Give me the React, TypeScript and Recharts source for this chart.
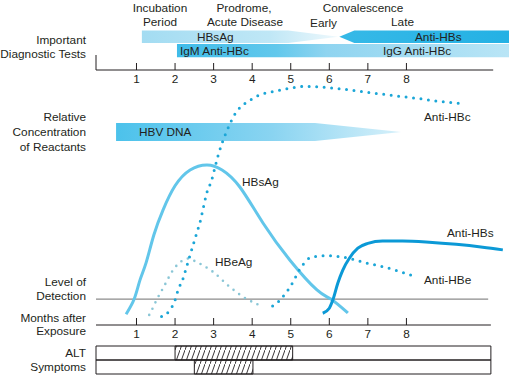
import React from "react";
import {
  ComposedChart,
  BarChart,
  Bar,
  Line,
  XAxis,
  YAxis,
  ReferenceLine,
  ReferenceArea,
  Label,
} from "recharts";

const W = 509;
const H = 377;
const LEFT = 96;
const X_MIN = -0.05;
const X_MAX = 10.66;
const PX = (W - LEFT) / (X_MAX - X_MIN);
const FONT = 11.8;
const INK = "#231f20";

// months after exposure
const monthTicks = [1, 2, 3, 4, 5, 6, 7, 8];

// serologic markers (months, relative concentration 0-100)
const hbsAgMonths = [0.73, 0.94, 1.09, 1.25, 1.45, 1.69, 2.0, 2.39, 2.83, 3.22, 3.68, 4.28, 4.98, 5.68, 6.04, 6.48];
const hbsAgLevel = [4.5, 10.8, 18.7, 26, 37.5, 48, 58, 64.6, 66.7, 64.6, 57.5, 42.5, 27, 14.6, 10.8, 5];

const antiHbcMonths = [1.65, 1.83, 2.0, 2.08, 2.21, 2.3, 2.43, 2.56, 2.65, 2.73, 2.82, 2.95, 3.04, 3.12, 3.24, 3.39, 3.54, 3.71, 3.88, 4.18, 4.53, 4.96, 5.31, 5.66, 6.17, 6.87, 7.56, 8.25, 8.94, 9.37];
const antiHbcLevel = [3.5, 5.5, 10.4, 14.6, 19.5, 24.3, 31.3, 38.2, 43, 48.6, 54.9, 60.4, 66, 70.8, 76.7, 82.6, 87.5, 91, 93, 95.8, 97.2, 98.6, 99.4, 99.3, 98.6, 97.2, 95.8, 94.5, 93, 92.4];

const hbeAgMonths = [1.33, 1.42, 1.52, 1.7, 1.98, 2.15, 2.35, 2.54, 2.98, 3.41, 3.8, 4.14];
const hbeAgLevel = [4.2, 7, 10.4, 15.7, 23.6, 26.4, 27.7, 26.4, 22.2, 16, 11.4, 8.6];

const antiHbeMonths = [4.53, 4.7, 4.83, 4.96, 5.09, 5.18, 5.31, 5.48, 5.83, 6.26, 6.61, 7.0, 7.38, 7.77, 8.16];
const antiHbeLevel = [7.9, 10, 12.5, 15.3, 18.8, 21.8, 25, 27.8, 28.9, 28.5, 27.4, 25.7, 24.3, 22.6, 20.5];

const antiHbsMonths = [5.83, 6.0, 6.1, 6.22, 6.35, 6.52, 6.74, 7.0, 7.38, 7.9, 8.59, 9.29, 9.98, 10.5];
const antiHbsLevel = [4.9, 7, 10.8, 17.4, 22.9, 27.8, 32, 34, 35, 35, 34.5, 33.6, 32.4, 31.3];

const detectionLevel = 10.8;
const hbvDnaSpan = [0.47, 7.86];

// diagnostic test windows (months)
const hbsAgTestSpan = [1.14, 6.23];
const antiHbsTestFrom = 6.26;
const antiHbcTestFrom = 2.05;

// clinical course
const clinicalRows = ["ALT", "Symptoms"];
const clinicalFrom = [2.0, 2.5];
const clinicalTo = [5.05, 4.02];
const clinicalBoxEnd = 10.19;

const series = (m: number[], v: number[]) => m.map((x, i) => ({ m: x, v: v[i] }));
const clinicalData = clinicalRows.map((name, i) => ({ name, span: [clinicalFrom[i], clinicalTo[i]] }));

function monthTick(labelDy: number) {
  return (p: any) => (
    <g>
      <line x1={p.x} x2={p.x} y1={p.y - 7} y2={p.y} stroke={INK} strokeWidth={1} />
      <text x={p.x} y={p.y + labelDy} textAnchor="middle" fontSize={FONT} fill={INK}>
        {p.payload.value}
      </text>
    </g>
  );
}

const taperRight = (fill: string, taper: number) => (p: any) => {
  const { x, y, width, height } = p;
  const xs = x + width - taper;
  return (
    <path
      d={`M${x},${y}L${xs},${y}L${x + width},${y + height / 2}L${xs},${y + height}L${x},${y + height}Z`}
      fill={fill}
    />
  );
};

const arrowLeft = (fill: string, tip: number) => (p: any) => {
  const { x, y, width, height } = p;
  return (
    <path
      d={`M${x},${y + height / 2}L${x + tip},${y}L${x + width},${y}L${x + width},${y + height}L${x + tip},${y + height}Z`}
      fill={fill}
    />
  );
};

const bandLabel = (value: string, offset: number) => ({
  value,
  position: "insideLeft" as const,
  offset,
  fontSize: FONT,
  fill: INK,
});

const sideLabels = [
  { lines: ["Important", "Diagnostic Tests"], y: [44, 57.5] },
  { lines: ["Relative", "Concentration", "of Reactants"], y: [121, 136, 150.5] },
  { lines: ["Level of", "Detection"], y: [286, 300] },
  { lines: ["Months after", "Exposure"], y: [321.5, 335] },
];

const phaseLabels = [
  { text: "Incubation", x: 160, y: 12 },
  { text: "Period", x: 160, y: 26 },
  { text: "Prodrome,", x: 244, y: 12 },
  { text: "Acute Disease", x: 245, y: 25.5 },
  { text: "Convalescence", x: 363, y: 12 },
  { text: "Early", x: 323.5, y: 27 },
  { text: "Late", x: 402.5, y: 26 },
];

const curveLabels = [
  { text: "Anti-HBs", x: 415, y: 41 },
  { text: "Anti-HBc", x: 424, y: 121 },
  { text: "HBsAg", x: 242, y: 186 },
  { text: "HBeAg", x: 215, y: 266 },
  { text: "Anti-HBs", x: 447, y: 237 },
  { text: "Anti-HBe", x: 424, y: 284 },
];

const layer: React.CSSProperties = { position: "absolute", left: 0, top: 0 };

export default function App() {
  return (
    <div
      style={{
        position: "absolute",
        left: 0,
        top: 0,
        width: W,
        height: H,
        background: "#fff",
        fontFamily: '"Liberation Sans", Arial, sans-serif',
      }}
    >
      <svg width={0} height={0} style={{ position: "absolute" }}>
        <defs>
          <linearGradient id="gHBsAg" x1="0" x2="1" y1="0" y2="0">
            <stop offset="0" stopColor="#a3dcf2" />
            <stop offset="0.65" stopColor="#bfe7f6" />
            <stop offset="1" stopColor="#eef8fc" />
          </linearGradient>
          <linearGradient id="gIg" x1="0" x2="1" y1="0" y2="0">
            <stop offset="0" stopColor="#3fbce9" />
            <stop offset="0.3" stopColor="#62c8ec" />
            <stop offset="0.45" stopColor="#8fd4f0" />
            <stop offset="1" stopColor="#b9e5f6" />
          </linearGradient>
          <linearGradient id="gAntiHBs" x1="0" x2="1" y1="0" y2="0">
            <stop offset="0" stopColor="#36b9e7" />
            <stop offset="1" stopColor="#24b1e4" />
          </linearGradient>
          <linearGradient id="gDNA" x1="0" x2="1" y1="0" y2="0">
            <stop offset="0" stopColor="#4cc2eb" />
            <stop offset="0.55" stopColor="#8ad4f1" />
            <stop offset="1" stopColor="#d6f0fa" />
          </linearGradient>
          <pattern id="hatch" patternUnits="userSpaceOnUse" width={5} height={14}>
            <line x1={0} y1={14} x2={5} y2={0} stroke={INK} strokeWidth={0.9} />
          </pattern>
        </defs>
      </svg>

      {/* diagnostic tests + top month axis */}
      <div style={layer}>
        <ComposedChart
          width={W}
          height={H}
          data={monthTicks.map((m) => ({ m }))}
          margin={{ top: 0, right: 0, bottom: 287, left: LEFT }}
        >
          <XAxis
            type="number"
            dataKey="m"
            domain={[X_MIN, X_MAX]}
            ticks={monthTicks}
            interval={0}
            height={20}
            axisLine={false}
            tickLine={false}
            tickSize={0}
            tickMargin={0}
            tick={monthTick(13)}
            allowDataOverflow
          />
          <YAxis type="number" domain={[0, 7]} hide allowDataOverflow />
          <ReferenceArea
            x1={hbsAgTestSpan[0]}
            x2={hbsAgTestSpan[1]}
            y1={2.7}
            y2={3.95}
            ifOverflow="visible"
            shape={taperRight("url(#gHBsAg)", 50)}
            label={bandLabel("HBsAg", 55)}
          />
          <ReferenceArea
            x1={antiHbsTestFrom}
            x2={X_MAX}
            y1={2.7}
            y2={3.95}
            ifOverflow="visible"
            shape={arrowLeft("url(#gAntiHBs)", 15)}
          />
          <ReferenceArea
            x1={antiHbcTestFrom}
            x2={X_MAX}
            y1={1.27}
            y2={2.6}
            ifOverflow="visible"
            shape={taperRight("url(#gIg)", 0)}
          >
            <Label {...bandLabel("IgM Anti-HBc", 3)} />
            <Label {...bandLabel("IgG Anti-HBc", 206)} />
          </ReferenceArea>
          <ReferenceLine segment={[{ x: X_MIN, y: 0 }, { x: 10.25, y: 0 }]} stroke={INK} ifOverflow="visible" />
          <ReferenceLine segment={[{ x: X_MIN, y: 0 }, { x: X_MIN, y: 1.5 }]} stroke={INK} ifOverflow="visible" />
        </ComposedChart>
      </div>

      {/* relative concentration of reactants */}
      <div style={layer}>
        <ComposedChart width={W} height={H} margin={{ top: 85, right: 0, bottom: 0, left: LEFT }}>
          <XAxis
            type="number"
            dataKey="m"
            domain={[X_MIN, X_MAX]}
            ticks={monthTicks}
            interval={0}
            height={52}
            axisLine={false}
            tickLine={false}
            tickSize={0}
            tickMargin={0}
            tick={monthTick(12.5)}
            allowDataOverflow
          />
          <YAxis
            type="number"
            domain={[0, 100]}
            width={0}
            tick={false}
            tickLine={false}
            axisLine={{ stroke: INK }}
            allowDataOverflow
          />
          <ReferenceArea
            x1={hbvDnaSpan[0]}
            x2={hbvDnaSpan[1]}
            y1={76.7}
            y2={84.2}
            ifOverflow="visible"
            shape={taperRight("url(#gDNA)", 86)}
            label={bandLabel("HBV DNA", 23)}
          />
          <ReferenceLine
            segment={[{ x: X_MIN, y: detectionLevel }, { x: 10.12, y: detectionLevel }]}
            stroke="#8b8b8b"
            strokeWidth={1.3}
            ifOverflow="visible"
          />
          <ReferenceLine segment={[{ x: X_MIN, y: 0 }, { x: 10.19, y: 0 }]} stroke={INK} ifOverflow="visible" />
          <Line
            data={series(hbeAgMonths, hbeAgLevel)}
            dataKey="v"
            type="monotone"
            stroke="#8ac6d6"
            strokeWidth={2.6}
            strokeDasharray="0 7"
            strokeLinecap="round"
            dot={false}
            activeDot={false}
            isAnimationActive={false}
          />
          <Line
            data={series(hbsAgMonths, hbsAgLevel)}
            dataKey="v"
            type="natural"
            stroke="#62c6ea"
            strokeWidth={3}
            dot={false}
            activeDot={false}
            isAnimationActive={false}
          />
          <Line
            data={series(antiHbcMonths, antiHbcLevel)}
            dataKey="v"
            type="monotone"
            stroke="#1ba6d7"
            strokeWidth={3}
            strokeDasharray="0 7.5"
            strokeLinecap="round"
            dot={false}
            activeDot={false}
            isAnimationActive={false}
          />
          <Line
            data={series(antiHbeMonths, antiHbeLevel)}
            dataKey="v"
            type="monotone"
            stroke="#1ba6d7"
            strokeWidth={3}
            strokeDasharray="0 7.5"
            strokeLinecap="round"
            dot={false}
            activeDot={false}
            isAnimationActive={false}
          />
          <Line
            data={series(antiHbsMonths, antiHbsLevel)}
            dataKey="v"
            type="monotone"
            stroke="#0b99d6"
            strokeWidth={3}
            dot={false}
            activeDot={false}
            isAnimationActive={false}
          />
        </ComposedChart>
      </div>

      {/* ALT and symptoms */}
      <div style={layer}>
        <BarChart
          layout="vertical"
          width={W}
          height={H}
          data={clinicalData}
          margin={{ top: 346, right: (X_MAX - clinicalBoxEnd) * PX, bottom: 3, left: LEFT - 60 }}
          barCategoryGap={0}
          barGap={0}
        >
          <XAxis type="number" domain={[X_MIN, clinicalBoxEnd]} hide allowDataOverflow />
          <YAxis
            type="category"
            dataKey="name"
            width={60}
            interval={0}
            axisLine={false}
            tickLine={false}
            tickSize={0}
            tickMargin={10}
            tick={{ fontSize: FONT, fill: INK }}
          />
          <Bar
            dataKey="span"
            fill="url(#hatch)"
            stroke={INK}
            strokeWidth={1}
            background={{ fill: "none", stroke: INK, strokeWidth: 1 }}
            isAnimationActive={false}
          />
        </BarChart>
      </div>

      <svg width={W} height={H} style={layer}>
        {sideLabels.map((g) =>
          g.lines.map((t, i) => (
            <text key={t} x={86} y={g.y[i]} textAnchor="end" fontSize={FONT} fill={INK}>
              {t}
            </text>
          ))
        )}
        {phaseLabels.map((l) => (
          <text key={l.text} x={l.x} y={l.y} textAnchor="middle" fontSize={FONT} fill={INK}>
            {l.text}
          </text>
        ))}
        {curveLabels.map((l, i) => (
          <text key={i} x={l.x} y={l.y} fontSize={FONT} fill={INK}>
            {l.text}
          </text>
        ))}
      </svg>
    </div>
  );
}
